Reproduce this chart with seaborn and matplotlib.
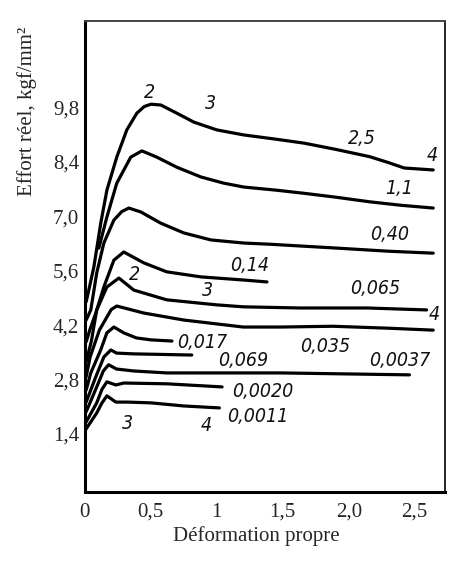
import matplotlib
matplotlib.use("Agg")
import matplotlib.pyplot as plt
import seaborn as sns

# Curves (strain, true stress in kgf/mm2), one per strain rate
rate_labels = ["2,5", "1,1", "0,40", "0,14", "0,065", "0,035",
               "0,017", "0,069", "0,0037", "0,0020", "0,0011"]

x_25 = [0.01, 0.03, 0.068, 0.121, 0.167, 0.242, 0.318, 0.394, 0.45, 0.50, 0.576,
        0.697, 0.826, 1.0, 1.205, 1.45, 1.66, 1.90, 2.16, 2.30, 2.42, 2.64]
y_25 = [4.80, 5.10, 5.69, 6.83, 7.67, 8.52, 9.22, 9.65, 9.82, 9.88, 9.86,
        9.65, 9.42, 9.22, 9.09, 8.98, 8.88, 8.72, 8.53, 8.38, 8.24, 8.19]

x_11 = [0.106, 0.167, 0.242, 0.348, 0.432, 0.545, 0.697, 0.879, 1.053, 1.205,
        1.45, 1.66, 1.90, 2.16, 2.40, 2.64]
y_11 = [6.18, 6.98, 7.85, 8.52, 8.68, 8.52, 8.26, 8.01, 7.85, 7.75,
        7.67, 7.59, 7.49, 7.37, 7.28, 7.21]

x_040 = [0.01, 0.045, 0.09, 0.144, 0.22, 0.28, 0.333, 0.424, 0.576, 0.75,
         0.955, 1.205, 1.40, 1.91, 2.30, 2.64]
y_040 = [4.33, 4.59, 5.54, 6.31, 6.90, 7.12, 7.21, 7.11, 6.82, 6.57,
         6.39, 6.31, 6.28, 6.18, 6.10, 6.05]

x_014 = [0.01, 0.04, 0.083, 0.144, 0.22, 0.295, 0.447, 0.62, 0.879, 1.2, 1.38]
y_014 = [3.77, 4.10, 4.51, 5.18, 5.87, 6.08, 5.80, 5.57, 5.44, 5.36, 5.31]

x_0065 = [0.01, 0.05, 0.09, 0.167, 0.258, 0.371, 0.62, 1.0, 1.2, 1.63, 2.14, 2.59]
y_0065 = [3.25, 3.80, 4.59, 5.18, 5.41, 5.10, 4.85, 4.72, 4.67, 4.64, 4.64, 4.59]

x_0035 = [0.01, 0.04, 0.11, 0.20, 0.242, 0.447, 0.75, 1.2, 1.48, 1.88, 2.30, 2.64]
y_0035 = [2.87, 3.38, 4.07, 4.60, 4.69, 4.51, 4.33, 4.15, 4.15, 4.17, 4.12, 4.07]

x_0017 = [0.01, 0.045, 0.12, 0.167, 0.22, 0.295, 0.39, 0.50, 0.66]
y_0017 = [2.53, 2.97, 3.56, 4.00, 4.15, 4.00, 3.87, 3.82, 3.79]

x_0069 = [0.01, 0.083, 0.144, 0.197, 0.24, 0.37, 0.81]
y_0069 = [2.22, 2.87, 3.38, 3.56, 3.48, 3.46, 3.43]

x_00037 = [0.01, 0.09, 0.14, 0.18, 0.24, 0.37, 0.62, 1.13, 1.48, 2.46]
y_00037 = [1.97, 2.61, 3.02, 3.18, 3.07, 3.02, 2.97, 2.97, 2.97, 2.92]

x_00020 = [0.01, 0.09, 0.13, 0.167, 0.235, 0.295, 0.62, 1.04]
y_00020 = [1.71, 2.20, 2.55, 2.74, 2.66, 2.71, 2.69, 2.61]

x_00011 = [0.00, 0.09, 0.13, 0.167, 0.235, 0.32, 0.50, 0.75, 1.02]
y_00011 = [1.48, 1.94, 2.20, 2.38, 2.22, 2.22, 2.20, 2.12, 2.07]

curves = [(x_25, y_25), (x_11, y_11), (x_040, y_040), (x_014, y_014),
          (x_0065, y_0065), (x_0035, y_0035), (x_0017, y_0017),
          (x_0069, y_0069), (x_00037, y_00037), (x_00020, y_00020),
          (x_00011, y_00011)]

# where each rate label sits
label_x = [2.10, 2.38, 2.31, 1.25, 2.20, 1.82, 0.89, 1.20, 2.39, 1.35, 1.31]
label_y = [9.00, 7.72, 6.52, 5.74, 5.13, 3.64, 3.74, 3.30, 3.30, 2.48, 1.84]

# stage numbers 2, 3, 4
stage_text = ["2", "3", "4", "2", "3", "4", "3", "4"]
stage_x = [0.49, 0.95, 2.63, 0.38, 0.93, 2.65, 0.32, 0.92]
stage_y = [10.19, 9.91, 8.57, 5.49, 5.10, 4.46, 1.68, 1.63]

y_ticks = [1.4, 2.8, 4.2, 5.6, 7.0, 8.4, 9.8]
y_tick_labels = ["1,4", "2,8", "4,2", "5,6", "7,0", "8,4", "9,8"]
x_ticks = [0, 0.5, 1, 1.5, 2.0, 2.5]
x_tick_labels = ["0", "0,5", "1", "1,5", "2,0", "2,5"]

sns.set_style("white")
plt.rcParams['font.family'] = ['Liberation Serif', 'DejaVu Serif']

fig = plt.figure(figsize=(4.74, 5.76), dpi=100)
ax = fig.add_axes([0.179, 0.146, 0.760, 0.8175])

for cx, cy in curves:
    sns.lineplot(x=cx, y=cy, sort=False, color="black", linewidth=2.3,
                 ax=ax, solid_joinstyle="round", solid_capstyle="round")

hand = dict(family=['DejaVu Sans'], style='italic', fontstretch='condensed',
            fontsize=14, ha='center', va='center', color='#111111')
for t, lx, ly in zip(rate_labels, label_x, label_y):
    ax.text(lx, ly, t, **hand)
for t, lx, ly in zip(stage_text, stage_x, stage_y):
    ax.text(lx, ly, t, **hand)

ax.set_xlim(0, 2.73)
ax.set_ylim(-0.09, 12.02)
ax.set_xticks(x_ticks)
ax.set_xticklabels(x_tick_labels, fontsize=15)
ax.set_yticks(y_ticks)
ax.set_yticklabels(y_tick_labels, fontsize=15)
ax.tick_params(axis='x', direction='in', length=6, width=1.2, pad=8, color='#333333')
ax.tick_params(axis='y', direction='in', length=7, width=1.2, pad=4)

for side in ['left', 'bottom']:
    ax.spines[side].set_linewidth(2.2)
    ax.spines[side].set_color('black')
ax.spines['right'].set_linewidth(1.2)
ax.spines['right'].set_color('black')
ax.spines['top'].set_linewidth(1.4)
ax.spines['top'].set_color('#444444')

fig.text(0.057, 0.806, "Effort réel, kgf/mm²", rotation=90, ha='center',
         va='center', fontsize=15)
fig.text(0.540, 0.0694, "Déformation propre", ha='center', va='center', fontsize=15)

fig.savefig("out.png", dpi=100)
